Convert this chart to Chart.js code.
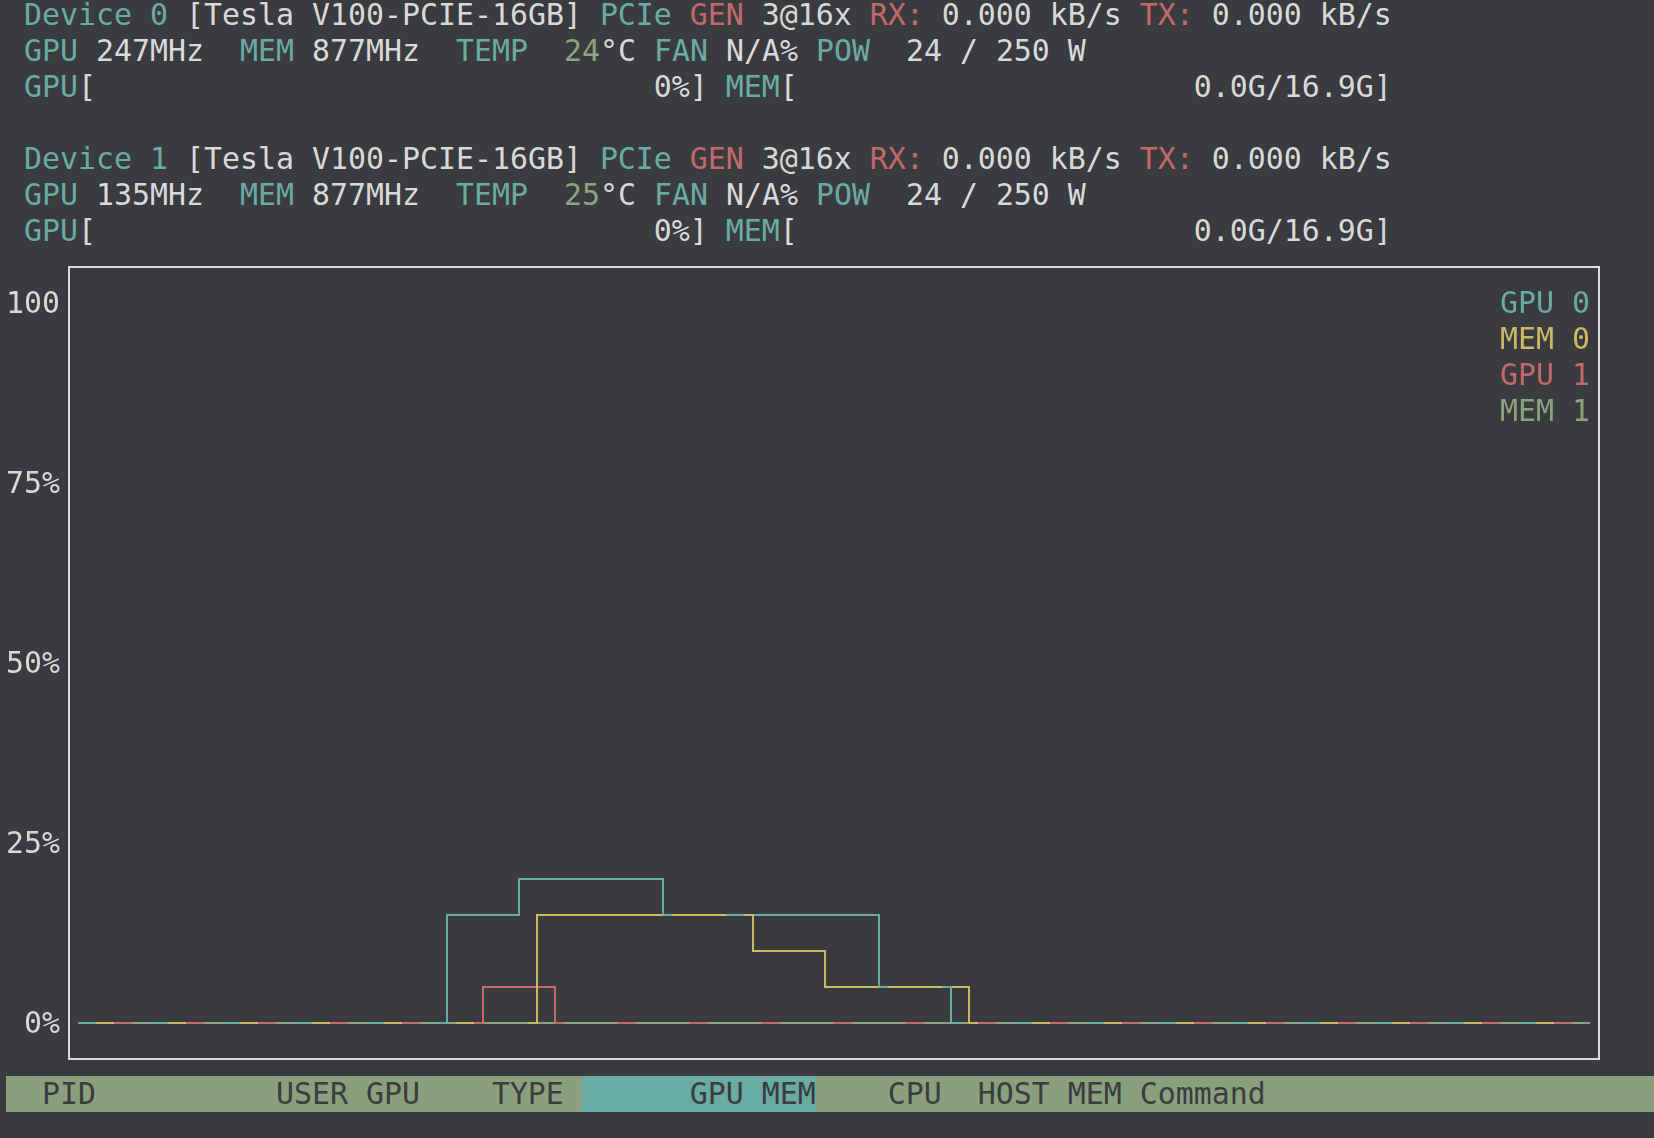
<!DOCTYPE html>
<html><head><meta charset="utf-8">
<script src="https://cdn.jsdelivr.net/npm/chart.js@4.4.1/dist/chart.umd.min.js"></script>
<style>
html,body{margin:0;padding:0;background:#3a3b3e;}
body{width:1654px;height:1138px;position:relative;overflow:hidden;font-family:'DejaVu Sans Mono',monospace;}
.term{position:absolute;left:6px;top:-3px;font-size:29.9px;line-height:36px;white-space:pre;color:#d9d9d9;}
.c{color:#69aca4}.r{color:#c4686d}.g{color:#8da37f}
#bar{position:absolute;left:6px;right:0;top:1076px;height:36px;background:#8aa07d;}
#hl{position:absolute;left:576px;width:234px;top:0;height:36px;background:#68aba3;}
#bartext{position:absolute;left:0;top:0;font-size:29.9px;line-height:36px;white-space:pre;color:#3b3c3f;}
canvas{position:absolute;left:0;top:0;}
</style>
</head>
<body>
<div class="term"> <span class="c">Device 0</span> [Tesla V100-PCIE-16GB] <span class="c">PCIe</span> <span class="r">GEN</span> 3@16x <span class="r">RX:</span> 0.000 kB/s <span class="r">TX:</span> 0.000 kB/s
 <span class="c">GPU</span> 247MHz  <span class="c">MEM</span> 877MHz  <span class="c">TEMP</span>  <span class="g">24</span>°C <span class="c">FAN</span> N/A% <span class="c">POW</span>  24 / 250 W
 <span class="c">GPU</span>[                               0%] <span class="c">MEM</span>[                      0.0G/16.9G]

 <span class="c">Device 1</span> [Tesla V100-PCIE-16GB] <span class="c">PCIe</span> <span class="r">GEN</span> 3@16x <span class="r">RX:</span> 0.000 kB/s <span class="r">TX:</span> 0.000 kB/s
 <span class="c">GPU</span> 135MHz  <span class="c">MEM</span> 877MHz  <span class="c">TEMP</span>  <span class="g">25</span>°C <span class="c">FAN</span> N/A% <span class="c">POW</span>  24 / 250 W
 <span class="c">GPU</span>[                               0%] <span class="c">MEM</span>[                      0.0G/16.9G]</div>
<div id="bar"><div id="hl"></div><div id="bartext">  PID          USER GPU    TYPE       GPU MEM    CPU  HOST MEM Command</div></div>
<canvas id="c" width="1654" height="1138" style="width:1654px;height:1138px"></canvas>
<script>
// ---- data ----
const seriesNames = ['GPU 0', 'MEM 0', 'GPU 1', 'MEM 1'];
const seriesColors = ['#69aca4', '#c9b967', '#c4686d', '#8da37f'];
const yTickValues = [0, 25, 50, 75, 100];
const yTickLabels = ['0%', '25%', '50%', '75%', '100'];
// time axis in sample cells (0..84); values in percent
const gpu0X = [0, 20.5, 24.5, 32.5, 44.5, 48.5, 84];
const gpu0Y = [0, 15, 20, 15, 5, 0, 0];
const mem0X = [0, 25.5, 37.5, 41.5, 49.5, 84];
const mem0Y = [0, 15, 10, 5, 0, 0];
const gpu1X = [0, 22.5, 26.5, 84];
const gpu1Y = [0, 5, 0, 0];
const mem1X = [0, 84];
const mem1Y = [0, 0];

const seriesX = [gpu0X, mem0X, gpu1X, mem1X];
const seriesY = [gpu0Y, mem0Y, gpu1Y, mem1Y];
const toPoints = (xs, ys) => xs.map((x, i) => ({x: x, y: ys[i]}));

// overlay dash: horizontal part visible only in this series' cell slot (every 4th cell)
function slotDash(c, k) {
  const sx = c.chart.scales.x;
  const x0 = sx.getPixelForValue(0), cw = sx.getPixelForValue(1) - x0;
  const runs = [];
  const add = (len, on) => {
    if (len <= 0) return;
    const last = runs[runs.length - 1];
    if (last && last.on === on) last.len += len; else runs.push({len: len, on: on});
  };
  let pos = c.p0.x; const end = c.p1.x;
  while (pos < end - 0.001) {
    const idx = Math.floor((pos - x0) / cw + 1e-6);
    const next = Math.min(end, x0 + (idx + 1) * cw);
    add(next - pos, ((idx % 4) + 4) % 4 === k);
    pos = next;
  }
  add(Math.abs(c.p1.y - c.p0.y) + 2, true);
  const arr = []; let wantOn = true;
  for (const r of runs) {
    if (r.on !== wantOn) { arr.push(0); wantOn = !wantOn; }
    arr.push(r.len); wantOn = !wantOn;
  }
  if (arr.length % 2) arr.push(100000);
  return arr;
}

const datasets = [];
seriesNames.forEach((name, s) => {
  datasets.push({
    label: name, data: toPoints(seriesX[s], seriesY[s]),
    borderColor: seriesColors[s], borderWidth: 2, stepped: 'before',
    pointRadius: 0, fill: false, order: 4 - s
  });
});
seriesNames.forEach((name, s) => {
  datasets.push({
    label: name + ' slot', data: toPoints(seriesX[s], seriesY[s]),
    borderColor: seriesColors[s], borderWidth: 2, stepped: 'before',
    pointRadius: 0, fill: false, order: 0,
    segment: {borderDash: c => slotDash(c, s), borderDashOffset: 0}
  });
});

const boxAndLegend = {
  id: 'boxAndLegend',
  afterDraw(chart) {
    const ctx = chart.ctx, a = chart.chartArea, y = chart.scales.y;
    ctx.save();
    ctx.strokeStyle = '#dcdcdc'; ctx.lineWidth = 2;
    ctx.strokeRect(a.left, a.top, a.right - a.left, a.bottom - a.top);
    ctx.font = '29.9px "DejaVu Sans Mono"';
    ctx.textAlign = 'right'; ctx.textBaseline = 'middle';
    seriesNames.forEach((n, i) => {
      ctx.fillStyle = seriesColors[i];
      ctx.fillText(n, a.right - 9, y.getPixelForValue(100 - 5 * i) + 2);
    });
    ctx.restore();
  }
};

new Chart(document.getElementById('c'), {
  type: 'line',
  data: {datasets: datasets},
  options: {
    responsive: false, animation: false, devicePixelRatio: 1,
    layout: {padding: {top: 267, bottom: 79, left: 0, right: 55}},
    plugins: {legend: {display: false}, tooltip: {enabled: false}},
    scales: {
      x: {type: 'linear', min: -0.5, max: 84.5, display: false},
      y: {
        type: 'linear', min: -5, max: 105,
        afterBuildTicks: s => { s.ticks = yTickValues.map(v => ({value: v})); },
        afterFit: s => { s.width = 69; },
        grid: {display: false, drawTicks: false},
        border: {display: false},
        ticks: {
          autoSkip: false, padding: 9, labelOffset: 2, color: '#d9d9d9',
          font: {family: 'DejaVu Sans Mono', size: 29.9},
          callback: v => yTickLabels[yTickValues.indexOf(v)]
        }
      }
    }
  },
  plugins: [boxAndLegend]
});
</script>
</body></html>
